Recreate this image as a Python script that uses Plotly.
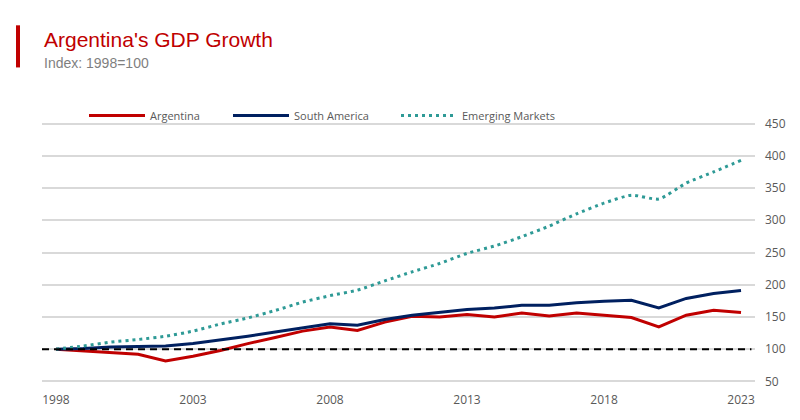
import plotly.graph_objects as go

# ================= data =================
years = list(range(1998, 2024))
argentina = [100, 97.4, 95.6, 92, 81.6, 89, 98, 108.6, 118, 128, 134.5, 129, 142,
             151, 150, 153.8, 150, 156, 151.6, 156, 152.7, 149, 134.5, 152.7, 160.5, 157]
south_america = [100, 101, 103.4, 104.5, 105, 108.7, 113.8, 120, 126.5, 133, 139.5, 137, 146,
                 152.7, 157, 161.6, 164, 168, 168, 172, 174.5, 176, 164, 178.7, 186.5, 191]
emerging = [100, 105, 111, 115, 120, 128, 139, 148.5, 160, 173, 183, 191.6, 206,
            220, 233, 248.7, 260, 274.6, 291, 310, 326.6, 339, 333, 357.7, 375, 393]
x_ticks = [1998, 2003, 2008, 2013, 2018, 2023]
y_ticks = [50, 100, 150, 200, 250, 300, 350, 400, 450]
# ========================================

RED = '#C00000'
NAVY = '#002060'
TEAL = '#2E9A96'
GRAY = '#595959'
TICK_FONT = 'Open Sans'

# 绘图区（窗口像素）: x 42..755, y 124..381 对应 50..450；页面 body 有 8px 边距
PLOT_W, PLOT_H = 713, 257
PAD = 2.5  # y 轴两端留一点余量，让 50 / 450 的网格线显示出来
PAD_PX = PAD * PLOT_H / 400


def px_x(p):
    return (p - 42) / PLOT_W


def px_y(p):
    return (381 + PAD_PX - p) / (PLOT_H + 2 * PAD_PX)


fig = go.Figure()

fig.add_trace(go.Scatter(x=years, y=argentina, name='Argentina', mode='lines',
                         line=dict(color=RED, width=3), legend='legend'))
fig.add_trace(go.Scatter(x=years, y=south_america, name='South America', mode='lines',
                         line=dict(color=NAVY, width=3), legend='legend2'))
fig.add_trace(go.Scatter(x=years, y=emerging, name='Emerging Markets', mode='lines',
                         line=dict(color=TEAL, width=3, dash='3px,4px', shape='spline', smoothing=0.6),
                         legend='legend3'))

# 基准线 100
fig.add_shape(type='line', xref='paper', x0=0.0, x1=0.995, yref='y', y0=100, y1=100,
              line=dict(color='black', width=2, dash='7px,5px'), layer='above')

# 标题左侧红条
fig.add_shape(type='rect', xref='paper', yref='paper',
              x0=px_x(16), x1=px_x(20), y0=px_y(68), y1=px_y(26),
              fillcolor=RED, line=dict(width=0))

fig.add_annotation(text="Argentina's GDP Growth", xref='paper', yref='paper',
                   x=px_x(42), y=px_y(40), xanchor='left', yanchor='middle', showarrow=False,
                   font=dict(family='Liberation Sans, Arial', size=21, color=RED))
fig.add_annotation(text='Index: 1998=100', xref='paper', yref='paper',
                   x=px_x(42), y=px_y(64), xanchor='left', yanchor='middle', showarrow=False,
                   font=dict(family='Liberation Sans, Arial', size=14, color='#7F7F7F'))


def legend_at(line_start):
    return dict(orientation='h', x=px_x(line_start - 5), xanchor='left',
                y=px_y(116), yanchor='middle', itemwidth=56,
                font=dict(family=TICK_FONT, size=11, color=GRAY),
                bgcolor='rgba(0,0,0,0)')


fig.update_layout(
    width=792, height=412,
    margin=dict(l=34, r=45, t=116 - PAD_PX, b=39 - PAD_PX),
    plot_bgcolor='white', paper_bgcolor='white',
    showlegend=True,
    legend=legend_at(89),
    legend2=legend_at(233),
    legend3=legend_at(401),
    xaxis=dict(range=[1997.49, 2023.51], tickvals=x_ticks, showgrid=False, zeroline=False,
               showline=False, ticks='', ticklabelstandoff=8,
               tickfont=dict(family=TICK_FONT, size=12, color=GRAY)),
    yaxis=dict(range=[50 - PAD, 450 + PAD], tickvals=y_ticks, side='right', showgrid=True,
               gridcolor='#D9D9D9', gridwidth=2, zeroline=False, showline=False, ticks='',
               ticklabelstandoff=9,
               tickfont=dict(family=TICK_FONT, size=12, color=GRAY)),
)

fig.write_html('out.html')
